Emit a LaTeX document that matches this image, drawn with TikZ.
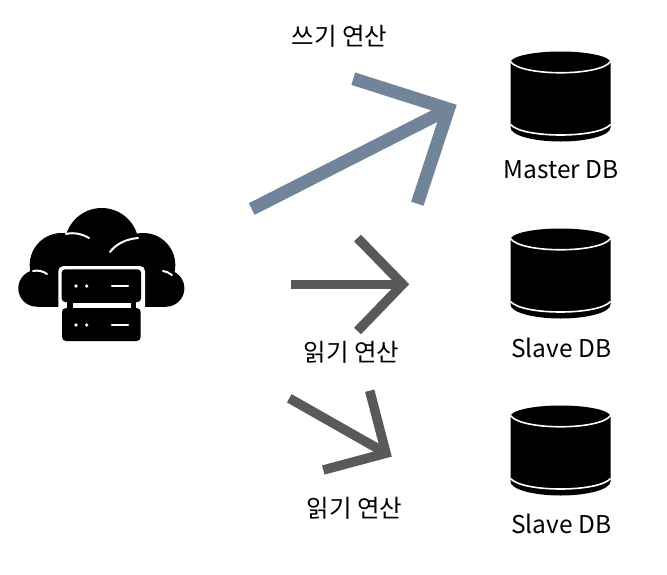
\documentclass[tikz,border=0pt]{standalone}
\usepackage{fontspec}
\setmainfont{Noto Sans CJK KR}
\tikzset{
  x=1pt,y=-1pt,
  lbl/.style={inner sep=0pt,font=\fontsize{24.5}{28}\selectfont,text=black},
  bigarrow/.style={draw=arrowblue,line width=13pt,miter limit=10},
  smallarrow/.style={draw=arrowgray,line width=9.5pt,miter limit=10},
  wline/.style={draw=white,line width=2pt,line cap=round},
  dbicon/.pic={
    \fill[black] (-50,0) arc[start angle=180,end angle=360,x radius=50,y radius=11]
      -- (50,65) arc[start angle=0,end angle=180,x radius=50,y radius=14] -- cycle;
    \draw[white,line width=1.6pt] (-50,-1) .. controls (-40,14) and (40,14) .. (50,-1);
    \draw[white,line width=1.6pt] (-50,62) .. controls (-38,76) and (38,76) .. (50,62);
  }
}
\definecolor{arrowblue}{HTML}{71849A}
\definecolor{arrowgray}{HTML}{595959}
\begin{document}
\begin{tikzpicture}
\useasboundingbox (0,0) rectangle (667,574);
% cloud
\fill[black] (101.7,245) circle[radius=37];
\fill[black] (61.7,265) circle[radius=32];
\fill[black] (143.3,265) circle[radius=32];
\fill[black] (36.7,288.3) circle[radius=18.4];
\fill[black] (166,288.3) circle[radius=18.4];
\fill[black] (36.7,275) rectangle (166,306.9);
\draw[wline] (66,234) .. controls (74,232) and (82,234) .. (89,238);
\draw[wline] (110,252) .. controls (116,244) and (126,239) .. (138,238);
\draw[wline] (33,271) .. controls (38,270) and (43,271) .. (47,274);
\draw[wline] (163,271) .. controls (166,271) and (169,273) .. (172,275);
% server
\fill[white,rounded corners=5pt] (58.3,266) rectangle (145,320);
\fill[white] (58,307) rectangle (146,322);
\fill[black,rounded corners=3.5pt] (61.7,269.3) rectangle (141,302);
\fill[black,rounded corners=4pt] (62,308) rectangle (140.7,341);
\fill[black] (66.7,298) rectangle (136,312);
\fill[white] (72.7,302.7) rectangle (130.7,307.7);
\fill[white] (76,286) circle[radius=1.8] (86.7,286) circle[radius=1.8];
\fill[white] (76,325) circle[radius=1.8] (86.7,325) circle[radius=1.8];
\draw[wline,line width=2.4pt] (112,286) -- (128,286);
\draw[wline,line width=2.4pt] (112,325) -- (128,325);
% databases
\pic at (560.5,62.5) {dbicon};
\pic at (560.5,239.5) {dbicon};
\pic at (560.5,416.5) {dbicon};
% labels
\node[lbl] (m) at (561,170) {Master DB};
\node[lbl] (s1) at (561.3,348) {Slave DB};
\node[lbl] (s2) at (561.3,524) {Slave DB};
\node[lbl] (w) at (339.5,36.5) {쓰기 연산};
\node[lbl] (r1) at (351.5,352.5) {읽기 연산};
\node[lbl] (r2) at (354.7,508.5) {읽기 연산};
% arrows
\coordinate (a1s) at (251.7,209);
\coordinate (a1t) at (448.5,109);
\coordinate (a1u) at (353.3,78.7);
\coordinate (a1l) at (417.3,203.7);
\draw[bigarrow] (a1s) -- (a1t);
\draw[bigarrow] (a1u) -- (a1t) -- (a1l);
\coordinate (a2s) at (291.3,284.3);
\coordinate (a2t) at (402.6,284.3);
\coordinate (a2u) at (357.5,238);
\coordinate (a2l) at (357.5,331);
\draw[smallarrow] (a2s) -- (a2t);
\draw[smallarrow] (a2u) -- (a2t) -- (a2l);
\coordinate (a3s) at (289.3,398.3);
\coordinate (a3t) at (386,453.2);
\coordinate (a3u) at (369.7,390.7);
\coordinate (a3l) at (323.3,470);
\draw[smallarrow] (a3s) -- (a3t);
\draw[smallarrow] (a3u) -- (a3t) -- (a3l);
\end{tikzpicture}
\end{document}
